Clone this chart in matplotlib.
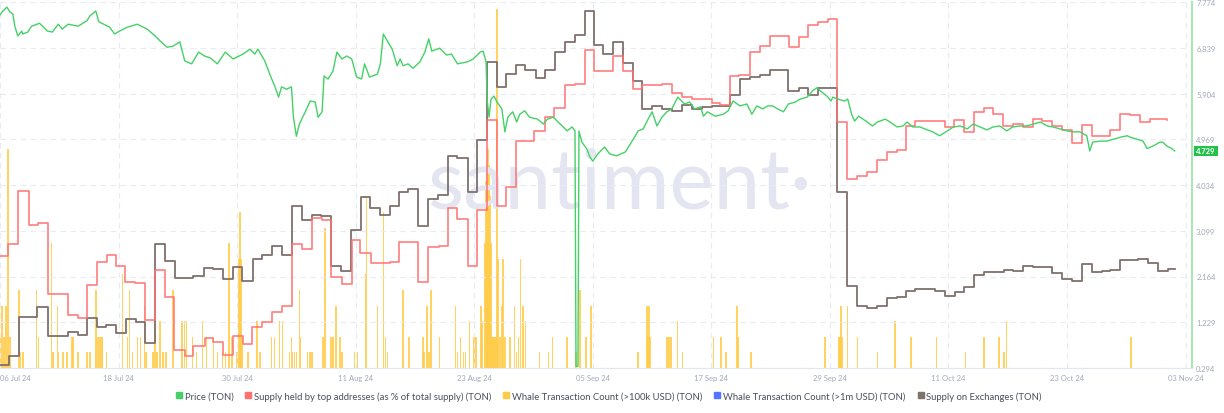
import matplotlib
matplotlib.use("Agg")
import matplotlib.pyplot as plt
from matplotlib.lines import Line2D

# x values are days since 06 Jul 24
price_days = [0.0, 0.2, 0.7, 1.0, 1.3, 1.5, 1.8, 2.2, 2.3, 2.8, 3.2, 4.0, 4.8, 5.3, 5.9, 6.3, 6.9, 7.9,
              8.8, 9.1, 9.7, 10.0, 11.1, 11.6, 12.1, 12.9, 13.9, 14.9, 15.7, 16.2, 16.9, 17.5, 18.2, 18.7,
              19.4, 20.1, 20.7, 21.3, 22.0, 22.8, 23.6, 24.6, 25.3, 25.8, 26.1, 26.8, 27.3, 27.8, 28.2,
              28.5, 29.0, 29.5, 29.7, 30.0, 30.3, 30.9, 31.4, 31.9, 32.2, 32.6, 32.8, 33.2, 33.7, 34.1,
              34.6, 35.1, 35.6, 36.1, 36.6, 36.9, 37.4, 38.2, 38.5, 38.8, 39.2, 39.7, 40.2, 40.5, 40.8,
              41.3, 41.8, 42.5, 43.0, 43.4, 43.7, 44.5, 45.2, 45.7, 46.3, 47.3, 47.9, 48.6, 48.9, 49.2,
              49.3, 49.5, 49.7, 50.0, 50.3, 50.8, 51.1, 51.4, 51.9, 52.3, 52.6, 53.1, 53.6, 54.4, 55.0,
              55.4, 56.0, 56.7, 57.4, 57.9, 58.2, 58.3, 58.5, 58.6, 58.9, 59.4, 59.7, 60.0, 60.5, 61.2,
              61.7, 62.4, 63.3, 64.1, 64.6, 65.1, 65.6, 66.0, 66.5, 67.0, 67.5, 68.0, 68.6, 69.3, 69.8,
              70.3, 70.9, 71.2, 71.6, 72.4, 73.2, 73.7, 74.2, 74.9, 75.6, 76.1, 76.6, 77.2, 77.7, 78.2,
              78.7, 79.3, 79.8, 80.5, 81.0, 81.7, 82.3, 82.7, 83.2, 83.7, 84.1, 84.3, 84.8, 85.5, 85.8,
              86.2, 86.5, 86.9, 87.8, 88.3, 88.8, 89.6, 90.1, 90.8, 91.4, 91.8, 92.4, 93.1, 94.4, 95.1,
              95.9, 96.5, 97.2, 97.9, 98.5, 99.2, 99.9, 100.5, 101.2, 101.9, 102.5, 103.2, 103.9, 104.6,
              105.3, 106.0, 106.6, 107.3, 108.0, 108.6, 109.3, 110.0, 110.3, 110.6, 111.3, 112.0, 112.7,
              113.4, 114.1, 114.4, 115.1, 115.7, 116.1, 116.7, 117.4, 117.7, 118.1, 118.6, 118.9]
price = [7.51, 7.57, 7.67, 7.57, 7.53, 7.28, 7.08, 7.18, 7.12, 7.16, 7.28, 7.34, 7.18, 7.16, 7.32, 7.22,
         7.32, 7.28, 7.39, 7.49, 7.59, 7.37, 7.26, 7.12, 7.18, 7.26, 7.32, 7.22, 7.08, 6.98, 6.85, 6.87,
         6.96, 6.57, 6.51, 6.75, 6.67, 6.63, 6.51, 6.75, 6.61, 6.71, 6.81, 6.71, 6.81, 6.57, 6.30, 6.06,
         5.83, 6.04, 5.99, 6.04, 5.42, 5.03, 5.28, 5.53, 5.75, 5.73, 5.42, 5.53, 6.26, 6.20, 6.36, 6.75,
         6.61, 6.67, 6.61, 6.24, 6.20, 6.51, 6.24, 6.30, 6.51, 7.12, 6.98, 6.81, 6.47, 6.61, 6.47, 6.51,
         6.42, 6.55, 6.75, 7.02, 6.77, 6.83, 6.69, 6.71, 6.51, 6.55, 6.61, 6.75, 6.77, 6.55, 5.79, 5.42,
         5.79, 5.85, 5.73, 5.59, 5.12, 5.42, 5.53, 5.32, 5.48, 5.55, 5.42, 5.38, 5.28, 5.38, 5.42, 5.28,
         5.14, 5.22, 5.14, 0.33, 0.33, 5.14, 4.91, 4.77, 4.61, 4.52, 4.67, 4.81, 4.67, 4.63, 4.71, 4.97,
         5.14, 5.18, 5.38, 5.53, 5.24, 5.42, 5.53, 5.59, 5.83, 5.69, 5.73, 5.59, 5.63, 5.44, 5.53, 5.44,
         5.48, 5.55, 5.75, 5.65, 5.69, 5.48, 5.65, 5.59, 5.65, 5.65, 5.59, 5.53, 5.69, 5.73, 5.79, 5.83,
         5.97, 6.02, 5.93, 5.85, 5.75, 5.83, 5.79, 5.75, 5.79, 5.48, 5.34, 5.44, 5.32, 5.24, 5.32, 5.38,
         5.32, 5.22, 5.24, 5.32, 5.22, 5.22, 5.12, 5.04, 5.14, 5.22, 5.24, 5.18, 5.28, 5.22, 5.16, 5.22,
         5.24, 5.14, 5.22, 5.24, 5.24, 5.28, 5.32, 5.24, 5.22, 5.18, 5.14, 5.12, 5.12, 5.04, 4.73, 4.91,
         4.93, 4.93, 4.97, 5.01, 5.04, 5.01, 4.97, 4.93, 4.78, 4.83, 4.91, 4.91, 4.83, 4.78, 4.73]

top_days = [0.0, 0.8, 1.8, 2.9, 3.8, 4.9, 6.9, 7.9, 8.8, 9.8, 10.8, 11.7, 12.7, 13.7, 14.7, 15.7, 16.7,
            17.6, 18.7, 19.5, 20.7, 21.6, 22.6, 23.6, 24.6, 25.5, 26.5, 27.5, 28.5, 29.6, 30.6, 31.6,
            32.6, 33.5, 34.6, 35.6, 36.4, 37.6, 39.5, 40.4, 42.3, 43.3, 44.4, 45.3, 46.3, 47.4, 48.3,
            49.3, 50.3, 51.2, 52.2, 54.1, 55.2, 56.1, 57.2, 58.2, 59.2, 60.1, 62.0, 63.1, 64.1, 65.0,
            67.0, 68.0, 69.0, 70.0, 72.1, 72.9, 73.9, 74.8, 75.9, 76.9, 77.9, 79.9, 80.9, 81.8, 82.8,
            83.8, 84.7, 85.7, 86.7, 87.8, 88.8, 89.8, 90.8, 91.7, 92.6, 95.6, 96.6, 97.6, 98.6, 99.6,
            100.5, 101.5, 102.5, 103.5, 104.6, 105.5, 106.5, 107.5, 108.5, 109.5, 110.5, 112.3, 113.4,
            114.4, 115.4, 116.4, 118.1]
top_supply = [2.58, 2.83, 3.91, 3.22, 3.26, 1.80, 1.38, 1.31, 1.99, 2.46, 2.60, 2.38, 2.05, 2.03, 1.27,
              2.30, 1.74, 0.66, 0.54, 0.74, 0.91, 0.82, 0.56, 0.95, 0.78, 1.13, 1.23, 1.43, 1.56, 2.83,
              2.72, 3.36, 3.32, 2.15, 2.01, 2.91, 2.64, 2.44, 2.46, 2.87, 2.05, 2.77, 2.79, 3.56, 3.34,
              2.38, 3.52, 5.36, 3.60, 3.99, 4.93, 5.14, 5.42, 5.61, 6.08, 6.10, 6.79, 6.36, 6.67, 6.36,
              5.99, 6.08, 6.10, 5.91, 5.83, 5.79, 5.71, 5.67, 6.26, 6.28, 6.75, 6.87, 7.08, 6.85, 7.06,
              7.30, 7.36, 7.43, 5.32, 4.16, 4.22, 4.30, 4.54, 4.71, 4.75, 5.24, 5.34, 5.22, 5.36, 5.12,
              5.53, 5.61, 5.48, 5.24, 5.28, 5.22, 5.38, 5.34, 5.24, 5.16, 4.89, 5.26, 5.04, 5.16, 5.48,
              5.46, 5.32, 5.38, 5.36]

exch_days = [0.0, 0.9, 1.9, 3.7, 4.9, 6.9, 7.9, 8.8, 9.8, 10.7, 11.7, 12.8, 13.8, 14.7, 15.7, 16.7,
             17.7, 19.5, 20.6, 21.6, 22.6, 23.6, 24.5, 25.6, 26.5, 27.5, 28.5, 29.6, 30.6, 31.6, 32.5,
             33.5, 34.5, 35.5, 36.5, 37.4, 38.5, 39.5, 40.4, 41.3, 42.3, 43.3, 44.3, 45.3, 46.3, 47.4,
             48.3, 49.3, 50.3, 51.2, 52.2, 53.1, 54.3, 55.2, 56.2, 57.2, 58.2, 59.2, 60.1, 61.0, 62.0,
             63.1, 64.1, 65.0, 66.0, 67.0, 68.0, 69.0, 70.0, 71.1, 72.1, 73.9, 74.9, 75.9, 76.9, 77.9,
             79.8, 80.9, 81.8, 82.8, 84.7, 85.7, 86.7, 87.8, 88.8, 89.8, 90.8, 91.7, 92.6, 94.6, 95.6,
             96.7, 97.6, 98.6, 99.6, 101.6, 102.5, 103.5, 104.6, 106.5, 107.5, 108.5, 109.5, 110.5,
             111.5, 112.3, 113.4, 115.2, 116.2, 117.2, 118.2, 118.9]
exch_supply = [0.35, 0.54, 1.33, 1.54, 0.95, 1.03, 0.97, 1.31, 1.13, 1.17, 1.01, 1.29, 1.23, 0.80, 2.83,
               2.48, 2.13, 2.17, 2.33, 2.31, 2.11, 2.36, 2.07, 2.52, 2.60, 2.79, 2.60, 3.60, 3.32, 3.42,
               3.40, 2.38, 2.28, 3.11, 3.79, 3.56, 3.42, 3.60, 3.89, 3.95, 3.20, 3.75, 3.83, 4.63, 4.59,
               3.89, 4.95, 6.55, 6.04, 6.30, 6.49, 6.38, 6.22, 6.38, 6.75, 6.96, 7.10, 7.59, 6.89, 6.71,
               6.96, 6.53, 6.16, 5.59, 5.65, 5.59, 5.55, 5.67, 5.59, 5.63, 5.65, 5.87, 6.20, 6.24, 6.28,
               6.38, 5.95, 6.02, 5.87, 6.02, 3.89, 1.97, 1.56, 1.52, 1.56, 1.72, 1.74, 1.87, 1.91, 1.87,
               1.76, 1.85, 1.95, 2.19, 2.25, 2.30, 2.27, 2.38, 2.36, 2.23, 2.11, 2.07, 2.42, 2.25, 2.27,
               2.30, 2.50, 2.52, 2.44, 2.27, 2.32, 2.32]

whale_days = [0.05, 0.2, 0.4, 0.6, 0.8, 1.0, 1.9, 2.1, 2.3, 2.4, 3.7, 3.9, 5.2, 5.3, 5.4, 5.8, 5.9, 6.4,
              6.8, 7.3, 7.4, 7.9, 8.8, 9.1, 9.7, 9.9, 10.1, 10.3, 10.4, 10.8, 12.4, 12.9, 13.1, 13.4,
              13.9, 14.2, 14.6, 14.8, 15.5, 15.7, 15.9, 16.2, 16.5, 16.8, 17.5, 18.4, 18.7, 18.9, 19.5,
              19.9, 20.5, 20.9, 21.6, 22.0, 22.5, 22.8, 23.2, 23.5, 24.0, 24.2, 24.3, 24.4, 24.5, 25.1,
              26.0, 26.3, 27.5, 27.8, 28.3, 28.6, 29.3, 29.5, 29.6, 29.8, 30.0, 30.3, 30.4, 31.1, 31.4,
              31.6, 32.7, 32.9, 33.5, 33.7, 34.0, 34.4, 34.6, 35.9, 36.2, 37.0, 37.1, 38.2, 38.8, 39.0,
              39.2, 40.8, 41.4, 42.8, 42.9, 43.2, 43.4, 43.6, 44.5, 46.1, 46.3, 46.6, 46.9, 47.1, 47.5,
              48.0, 48.2, 48.7, 48.8, 49.1, 49.2, 49.3, 49.4, 49.5, 49.6, 49.7, 49.8, 49.9, 50.0, 50.1,
              50.2, 50.3, 50.4, 50.6, 50.8, 50.9, 51.1, 51.6, 52.1, 52.3, 52.5, 52.7, 52.9, 53.0, 53.2,
              54.6, 55.5, 55.9, 57.4, 58.3, 58.7, 59.3, 59.8, 64.6, 65.5, 65.6, 65.7, 65.8, 67.5, 67.7,
              67.9, 68.6, 69.1, 72.2, 73.0, 73.5, 74.6, 74.7, 76.0, 83.5, 84.9, 85.0, 85.1, 85.2, 85.8,
              86.8, 88.8, 90.6, 92.2, 94.8, 97.7, 99.6, 101.1, 101.6, 101.9, 114.5]
whale_100k = [2, 4, 2, 4, 14, 2, 5, 1, 1, 1, 5, 2, 8, 1, 1, 4, 1, 1, 1, 2, 2, 1, 1, 1, 5, 2, 2, 2, 2, 1,
              6, 2, 5, 1, 2, 2, 4, 1, 1, 3, 1, 3, 1, 1, 5, 3, 3, 3, 2, 1, 3, 2, 2, 1, 1, 1, 8, 2, 1, 7,
              10, 7, 2, 1, 3, 1, 2, 2, 3, 3, 1, 2, 1, 1, 1, 5, 2, 1, 1, 1, 2, 9, 2, 2, 4, 2, 1, 1, 1, 6,
              11, 4, 10, 2, 1, 5, 2, 2, 1, 4, 1, 5, 2, 4, 1, 2, 1, 1, 3, 2, 2, 4, 3, 8, 12, 13, 14, 13,
              11, 8, 2, 2, 2, 2, 2, 23, 7, 2, 4, 7, 2, 2, 4, 1, 2, 7, 4, 4, 3, 1, 1, 2, 2, 1, 5, 2, 4, 1,
              4, 2, 4, 2, 2, 2, 2, 3, 1, 2, 2, 1, 4, 2, 1, 2, 2, 2, 4, 2, 4, 2, 1, 3, 2, 2, 1, 2, 2, 1, 3,
              2]
whale_1m_days = []
whale_1m = []

tick_days = [0, 12, 24, 36, 48, 60, 72, 84, 96, 108, 120]
tick_labels = ["06 Jul 24", "18 Jul 24", "30 Jul 24", "11 Aug 24", "23 Aug 24", "05 Sep 24",
               "17 Sep 24", "29 Sep 24", "11 Oct 24", "23 Oct 24", "03 Nov 24"]
y_ticks = [0.294, 1.229, 2.164, 3.099, 4.034, 4.969, 5.904, 6.839, 7.774]
last_price = 4.729

GREEN = "#45d167"
RED = "#ff7070"
YELLOW = "#ffcb47"
BLUE = "#5275ff"
GRAY = "#7f716c"
LIGHT = "#a3a8ba"

plt.rcParams["font.family"] = ["Lato", "DejaVu Sans"]

fig = plt.figure(figsize=(12.24, 4.14), dpi=100)
ax = fig.add_axes([0.0, 45 / 414, 1192 / 1224, 366 / 414])
axb = ax.twinx()
axb.set_zorder(ax.get_zorder() - 1)
ax.patch.set_visible(False)

# whale transaction bars on their own hidden scale
axb.bar(whale_days, whale_100k, width=0.15, color=YELLOW, alpha=0.85, align="center")
axb.bar(whale_1m_days, whale_1m, width=0.15, color=BLUE)
axb.set_ylim(0, 23.45)
axb.axis("off")
axb.set_xlim(0, 120.65)

ax.plot(exch_days, exch_supply, drawstyle="steps-post", color=GRAY, lw=1.3)
ax.plot(top_days, top_supply, drawstyle="steps-post", color=RED, lw=1.2, alpha=0.9)
ax.plot(price_days, price, color=GREEN, lw=1.0)

ax.set_xlim(0, 120.65)
ax.set_ylim(0.294, 7.774)

ax.text(0.52, 0.50, "santiment\u00b7", transform=ax.transAxes, ha="center", va="center",
        fontsize=60, color="#e3e5f0", fontweight="normal", zorder=0)

ax.yaxis.tick_right()
ax.set_yticks(y_ticks)
ax.set_yticklabels([f"{v:.3f}" for v in y_ticks])
ax.set_xticks(tick_days)
ax.set_xticklabels(tick_labels)
ax.tick_params(axis="both", length=0, labelsize=5.5, labelcolor=LIGHT)
ax.tick_params(axis="y", pad=3)
ax.tick_params(axis="x", pad=4)
ax.get_xticklabels()[0].set_ha("left")

ax.grid(True, color="#e9ebf2", lw=0.8, ls=(0, (5, 4)))
for s in ["top", "left"]:
    ax.spines[s].set_visible(False)
ax.spines["bottom"].set_color("#e4e6ee")
ax.spines["right"].set_color("#a6e8b6")
ax.spines["right"].set_linewidth(1.5)

ax.annotate(f"{last_price:.3f}", xy=(1.0, (last_price - 0.294) / (7.774 - 0.294)),
            xycoords="axes fraction", xytext=(3, 0), textcoords="offset points",
            ha="left", va="center", fontsize=5.5, color="white", fontweight="bold",
            bbox=dict(boxstyle="square,pad=0.25", fc="#22c24b", ec="none"))

handles = [Line2D([], [], marker="s", ls="none", color=c, markersize=5)
           for c in [GREEN, RED, YELLOW, BLUE, GRAY]]
labels = ["Price (TON)", "Supply held by top addresses (as % of total supply) (TON)",
          "Whale Transaction Count (>100k USD) (TON)", "Whale Transaction Count (>1m USD) (TON)",
          "Supply on Exchanges (TON)"]
fig.legend(handles, labels, loc="center", bbox_to_anchor=(0.497, 0.041), ncol=5, frameon=False,
           fontsize=6.8, labelcolor="#4a4f5c", handletextpad=0.2, columnspacing=1.2,
           handlelength=0.8)

fig.savefig("out.png", dpi=100)
